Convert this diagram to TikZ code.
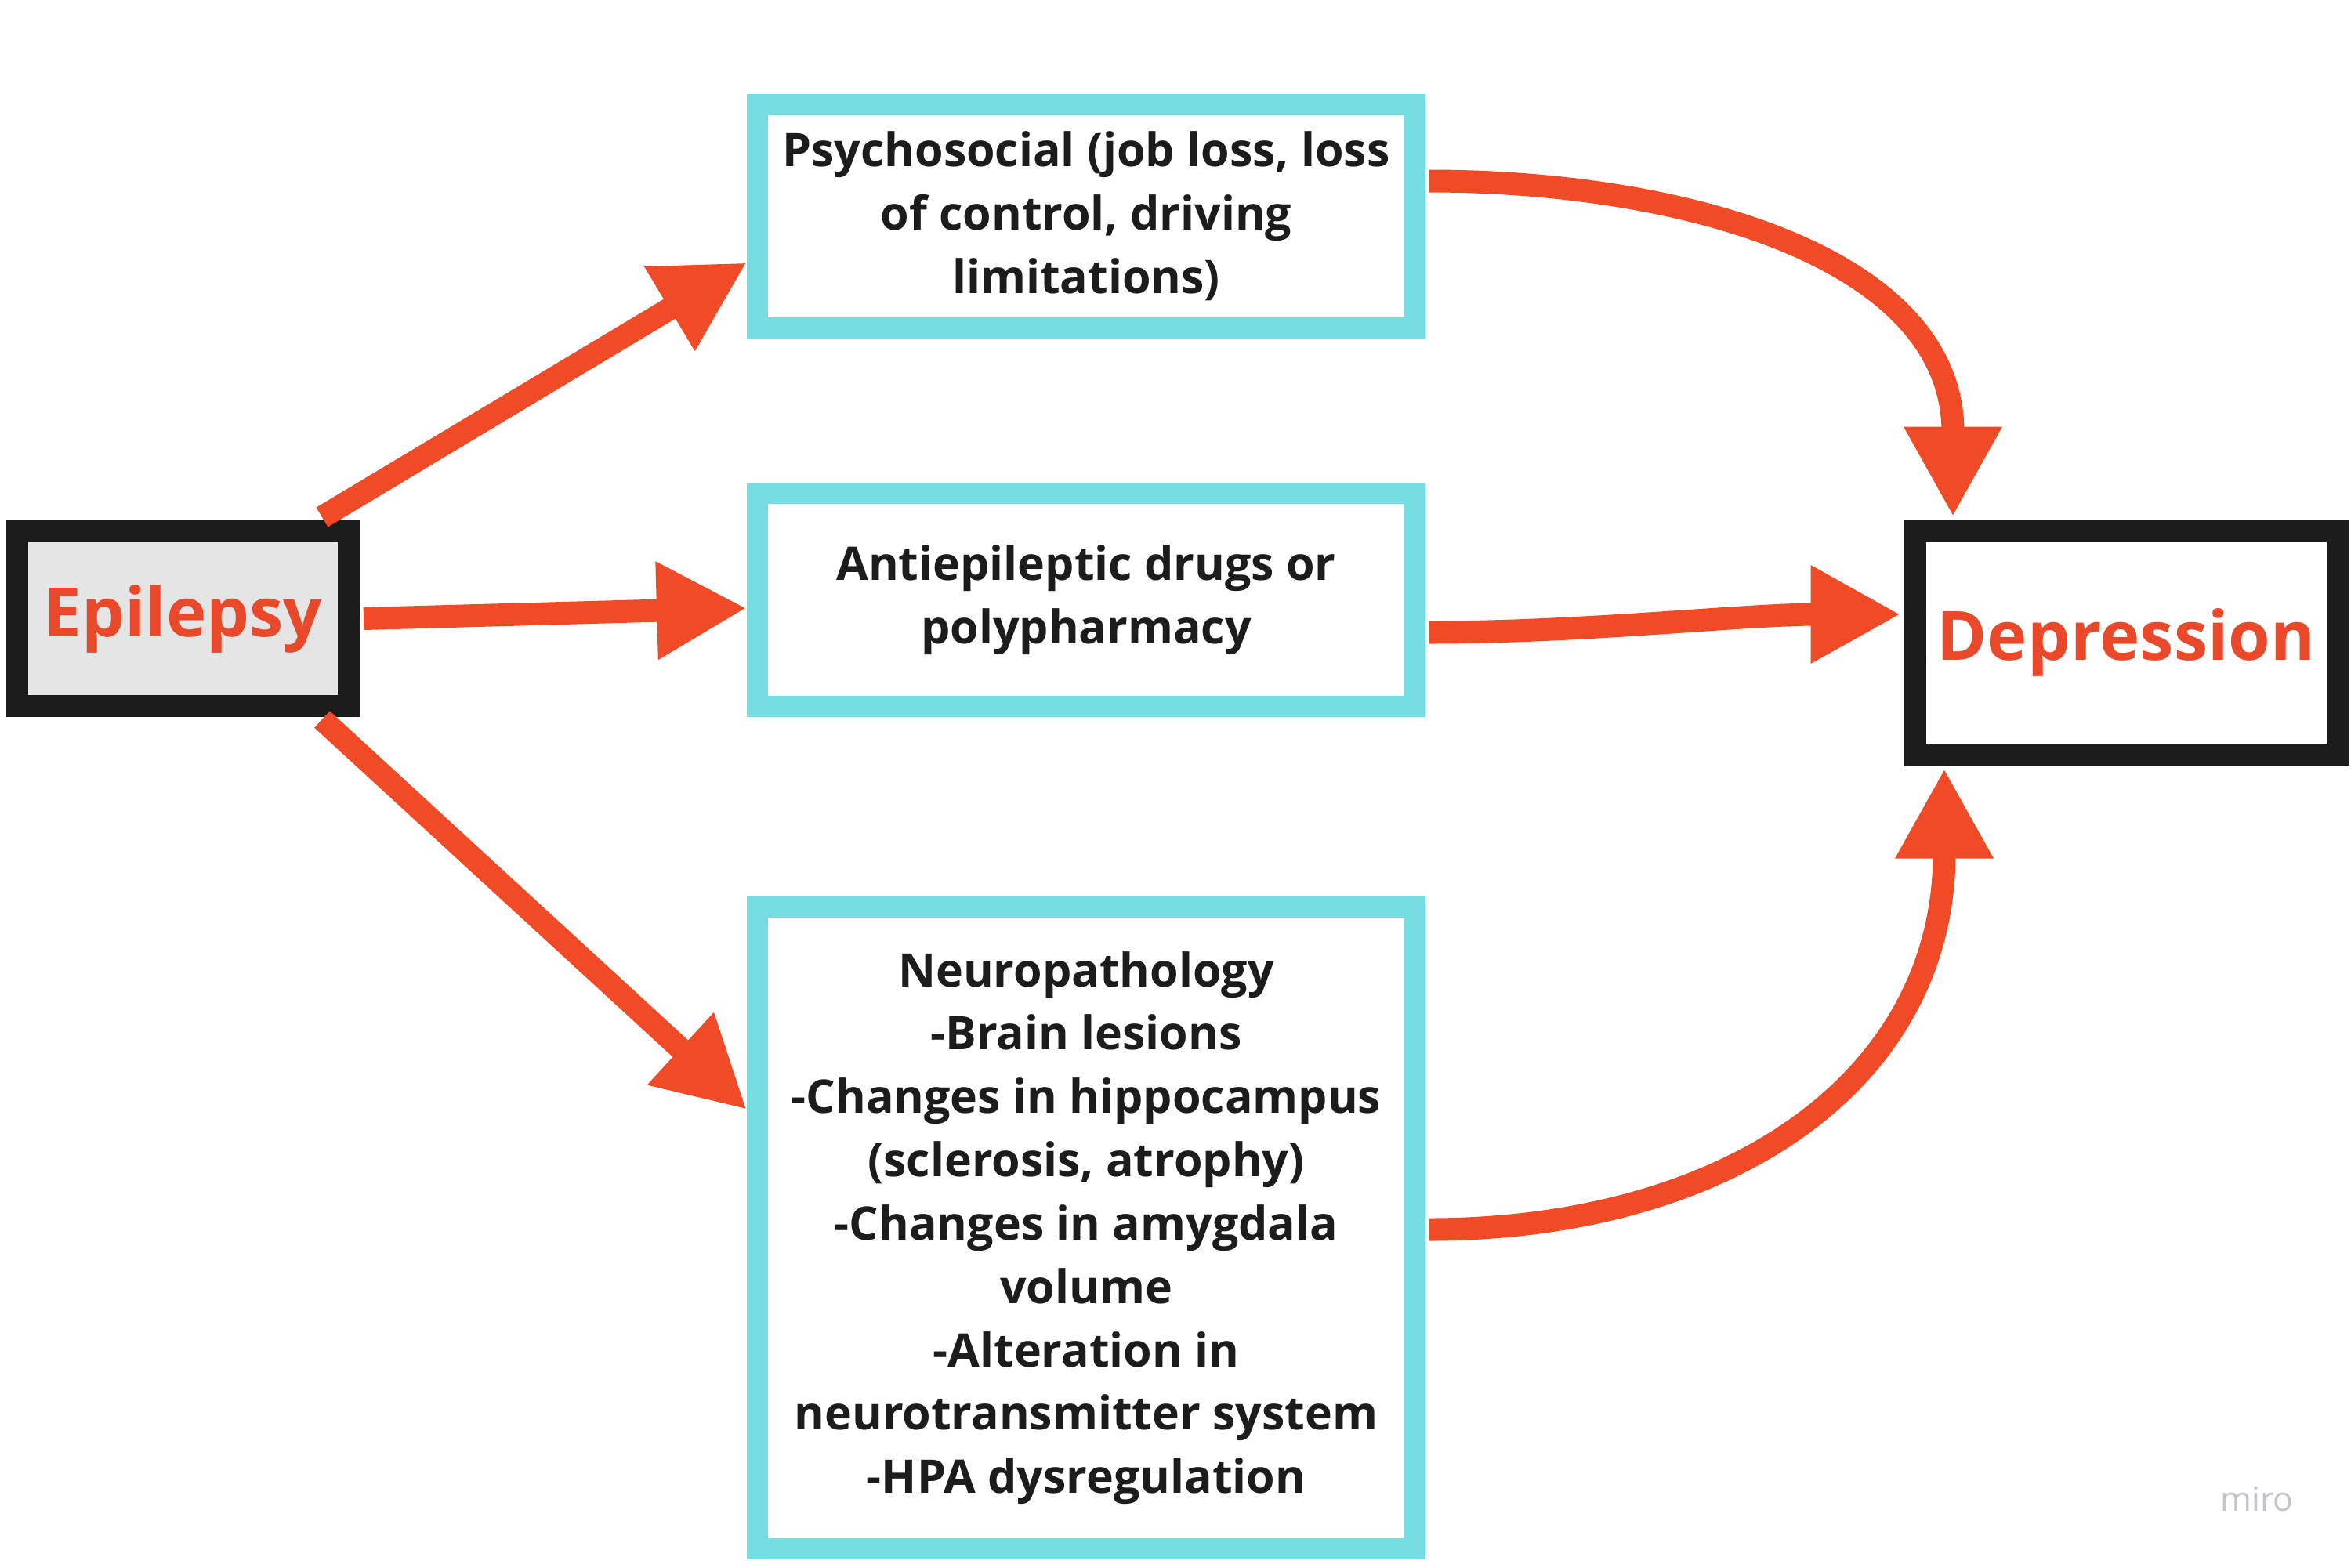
\documentclass[tikz,border=0pt]{standalone}
\usepackage{fontspec}
\setmainfont{Open Sans}
\usetikzlibrary{arrows.meta,calc}
\definecolor{arr}{HTML}{F04A26}
\definecolor{cyanb}{HTML}{76DEE3}
\definecolor{blk}{HTML}{1B1B1B}
\definecolor{redtxt}{HTML}{E8492B}
\definecolor{txt}{HTML}{1C1C1C}
\definecolor{grayfill}{HTML}{E5E5E5}
\definecolor{wmgray}{HTML}{C4C4CA}
\begin{document}
\begin{tikzpicture}[
  midbox/.style={draw=cyanb, line width=0.27cm, fill=white, minimum width=8.39cm, inner sep=0pt, align=center, text=txt, font=\bfseries\fontsize{16.8}{23}\selectfont},
  endbox/.style={draw=blk, line width=0.28cm, inner sep=0pt, text=redtxt, font=\bfseries\fontsize{24.7}{30}\selectfont},
  conn/.style={draw=arr, line width=0.29cm, -{Triangle[length=1.15cm,width=1.17cm]}}
]
\useasboundingbox (0,0) rectangle (30,-20);
\fill[white] (0,0) rectangle (30,-20);
\node[endbox, fill=grayfill, minimum width=4.23cm, minimum height=2.23cm] (epi) at (2.335,-7.895) {Epilepsy};
\node[endbox, fill=white, minimum width=5.39cm, minimum height=2.85cm] (dep) at (27.13,-8.20) {Depression};
\node[midbox, minimum height=2.85cm] (psy) at (13.86,-2.76) {Psychosocial (job loss, loss\\of control, driving\\limitations)};
\node[midbox, minimum height=2.72cm] (anti) at (13.86,-7.655) {Antiepileptic drugs or\\polypharmacy};
\node[midbox, minimum height=8.19cm] (neuro) at (13.86,-15.67) {Neuropathology\\-Brain lesions\\-Changes in hippocampus\\(sclerosis, atrophy)\\-Changes in amygdala\\volume\\-Alteration in\\neurotransmitter system\\-HPA dysregulation};
\node[text=wmgray, font=\fontsize{12.2}{14}\selectfont] (wm) at (28.8,-19.13) {miro};
\draw[conn] ($(epi.north east)+(-0.48,0.04)$) -- ($(psy.west)+(0,-0.59)$);
\draw[conn] ($(epi.east)+(0.05,0)$) -- ($(anti.west)+(0,-0.105)$);
\draw[conn] ($(epi.south east)+(-0.48,-0.03)$) -- ($(neuro.west)+(0,1.51)$);
\draw[conn] ($(psy.east)+(0.04,0.45)$) .. controls +(3.27,0) and +(0,3.3) .. ($(dep.north)+(-2.21,0.04)$);
\draw[conn] ($(anti.east)+(0.04,-0.415)$) .. controls +(2,0) and +(-2,0) .. ($(dep.west)+(-0.04,0.36)$);
\draw[conn] ($(neuro.east)+(0.04,-0.02)$) .. controls +(3.8,0) and +(0,-4.0) .. ($(dep.south)+(-2.32,-0.04)$);
\end{tikzpicture}
\end{document}
